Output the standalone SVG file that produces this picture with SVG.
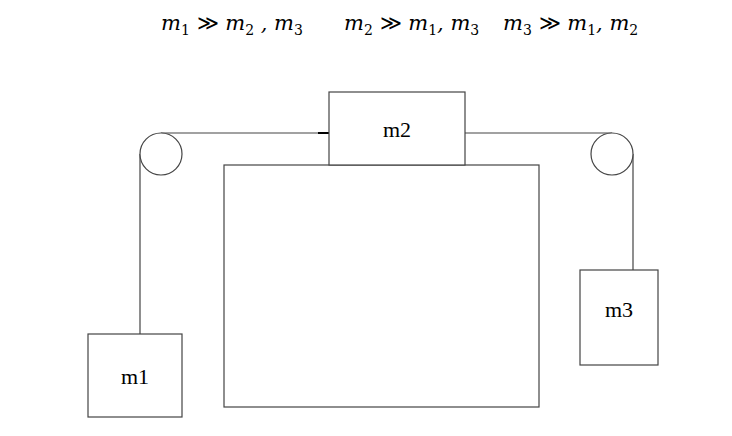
<svg xmlns="http://www.w3.org/2000/svg" width="732" height="436" viewBox="0 0 732 436">
<style>
.s{fill:none;stroke:#444;stroke-width:1.2}
.b{fill:#fff;stroke:#444;stroke-width:1.2}
.l{font-family:"Liberation Serif",serif;font-size:22px;fill:#000;text-anchor:middle}
.m{font-family:"DejaVu Serif","Liberation Serif",serif;font-style:italic;font-size:21px;fill:#000}
.sub{font-size:14px;font-style:normal}
</style>
<rect width="732" height="436" fill="#fff"/>
<g id="formula">
<text class="m" x="161" y="30">m<tspan class="sub" dy="5">1</tspan><tspan dy="-5" font-style="normal"> ≫ </tspan>m<tspan class="sub" dy="5">2</tspan><tspan dy="-5"> , </tspan>m<tspan class="sub" dy="5">3</tspan></text>
<text class="m" x="344" y="30">m<tspan class="sub" dy="5">2</tspan><tspan dy="-5" font-style="normal"> ≫ </tspan>m<tspan class="sub" dy="5">1</tspan><tspan dy="-5">, </tspan>m<tspan class="sub" dy="5">3</tspan></text>
<text class="m" x="503" y="30">m<tspan class="sub" dy="5">3</tspan><tspan dy="-5" font-style="normal"> ≫ </tspan>m<tspan class="sub" dy="5">1</tspan><tspan dy="-5">, </tspan>m<tspan class="sub" dy="5">2</tspan></text>
</g>
<g id="connectors">
<path class="s" d="M161 133H329"/>
<path d="M318 133H329" stroke="#000" stroke-width="2"/>
<path class="s" d="M465 133H612"/>
<path class="s" d="M140 154V334"/>
<path class="s" d="M633 154V270"/>
</g>
<g id="table"><rect class="b" x="224" y="165" width="315" height="242"/></g>
<g id="pulley1"><circle class="b" cx="161" cy="154" r="21"/></g>
<g id="pulley2"><circle class="b" cx="612" cy="154" r="21"/></g>
<g id="m2"><rect class="b" x="329" y="92" width="136" height="73"/><text class="l" x="397" y="137">m2</text></g>
<g id="m1"><rect class="b" x="88" y="334" width="94" height="83"/><text class="l" x="135" y="384">m1</text></g>
<g id="m3"><rect class="b" x="580" y="270" width="78" height="95"/><text class="l" x="619" y="317">m3</text></g>
</svg>
